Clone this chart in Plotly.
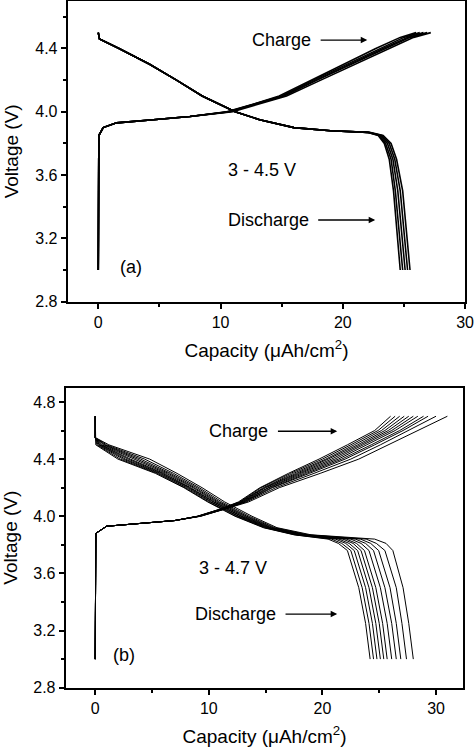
import plotly.graph_objects as go

FONT = "Liberation Sans, Arial, sans-serif"

# ---------------- Panel (a): 3 - 4.5 V ----------------
a_charge_v = [3.00, 3.85, 3.90, 3.93, 3.95, 3.97, 4.00, 4.05, 4.10, 4.20, 4.30, 4.40, 4.47, 4.50]
a_charge_cap = [
    [0, 0.05, 0.4, 1.5, 4.5, 7.5, 10.5, 12.8, 14.8, 17.4, 20.0, 22.7, 24.7, 26.0],
    [0, 0.05, 0.4, 1.5, 4.5, 7.5, 10.6, 12.9, 15.0, 17.6, 20.3, 23.0, 25.0, 26.3],
    [0, 0.05, 0.4, 1.5, 4.5, 7.5, 10.7, 13.0, 15.1, 17.8, 20.5, 23.3, 25.3, 26.6],
    [0, 0.05, 0.4, 1.5, 4.5, 7.5, 10.8, 13.1, 15.2, 17.9, 20.7, 23.6, 25.5, 26.9],
    [0, 0.05, 0.4, 1.5, 4.5, 7.5, 11.0, 13.3, 15.4, 18.2, 21.0, 23.9, 25.8, 27.2],
]
a_dis_v = [4.50, 4.46, 4.40, 4.30, 4.20, 4.10, 4.00, 3.95, 3.90, 3.88, 3.87, 3.85, 3.80, 3.70, 3.50, 3.25, 3.00]
a_dis_cap = [
    [0, 0.1, 1.7, 4.2, 6.4, 8.5, 11.2, 13.2, 16.0, 19.0, 22.0, 22.9, 23.4, 23.8, 24.15, 24.45, 24.7],
    [0, 0.1, 1.7, 4.2, 6.4, 8.5, 11.2, 13.2, 16.0, 19.0, 22.0, 23.0, 23.5, 23.95, 24.3, 24.6, 24.9],
    [0, 0.1, 1.7, 4.2, 6.4, 8.5, 11.2, 13.2, 16.0, 19.0, 22.1, 23.1, 23.65, 24.1, 24.5, 24.8, 25.1],
    [0, 0.1, 1.7, 4.2, 6.4, 8.5, 11.2, 13.2, 16.0, 19.0, 22.1, 23.2, 23.8, 24.25, 24.7, 25.0, 25.3],
    [0, 0.1, 1.7, 4.2, 6.4, 8.5, 11.2, 13.2, 16.0, 19.0, 22.2, 23.3, 23.95, 24.4, 24.9, 25.2, 25.5],
]

# ---------------- Panel (b): 3 - 4.7 V ----------------
b_charge_v = [3.00, 3.88, 3.93, 3.95, 3.97, 4.00, 4.05, 4.10, 4.20, 4.30, 4.40, 4.50, 4.60, 4.70]
b_charge_cap = [
    [0, 0.05, 1.0, 4.0, 7.0, 9.0, 11.0, 12.6, 14.5, 17.0, 19.7, 22.2, 24.6, 26.0],
    [0, 0.05, 1.0, 4.0, 7.0, 9.0, 11.0, 12.7, 14.6, 17.2, 20.0, 22.5, 24.9, 26.4],
    [0, 0.05, 1.0, 4.0, 7.0, 9.05, 11.1, 12.75, 14.8, 17.45, 20.3, 22.8, 25.2, 26.8],
    [0, 0.05, 1.0, 4.0, 7.0, 9.1, 11.1, 12.8, 14.9, 17.7, 20.5, 23.1, 25.5, 27.2],
    [0, 0.05, 1.0, 4.0, 7.0, 9.1, 11.2, 12.9, 15.0, 17.9, 20.8, 23.35, 25.8, 27.6],
    [0, 0.05, 1.0, 4.0, 7.0, 9.1, 11.2, 12.95, 15.2, 18.1, 21.1, 23.6, 26.1, 28.0],
    [0, 0.05, 1.0, 4.0, 7.0, 9.15, 11.25, 13.05, 15.3, 18.35, 21.4, 23.9, 26.4, 28.4],
    [0, 0.05, 1.0, 4.0, 7.0, 9.15, 11.3, 13.1, 15.5, 18.6, 21.7, 24.3, 26.8, 28.9],
    [0, 0.05, 1.0, 4.0, 7.0, 9.2, 11.35, 13.2, 15.6, 18.85, 22.0, 24.6, 27.1, 29.3],
    [0, 0.05, 1.0, 4.0, 7.0, 9.25, 11.4, 13.3, 15.9, 19.25, 22.5, 25.1, 27.6, 30.0],
    [0, 0.05, 1.0, 4.0, 7.0, 9.3, 11.5, 13.5, 16.2, 19.8, 23.2, 25.8, 28.4, 31.0],
]
b_dis_v = [4.70, 4.55, 4.50, 4.40, 4.30, 4.20, 4.10, 4.00, 3.92, 3.87, 3.84, 3.81, 3.76, 3.50, 3.25, 3.00]
b_dis_cap = [
    [0, 0, 0.05, 2.0, 5.3, 7.8, 9.9, 12.3, 14.8, 17.5, 20.5, 21.4, 22.2, 23.2, 23.8, 24.2],
    [0, 0, 0.15, 2.2, 5.45, 7.9, 10.0, 12.4, 14.9, 17.6, 20.8, 21.7, 22.5, 23.5, 24.1, 24.5],
    [0, 0, 0.25, 2.45, 5.6, 8.05, 10.15, 12.55, 15.0, 17.75, 21.15, 22.05, 22.8, 23.8, 24.4, 24.8],
    [0, 0, 0.35, 2.65, 5.75, 8.2, 10.25, 12.65, 15.1, 17.85, 21.45, 22.35, 23.1, 24.1, 24.7, 25.1],
    [0, 0, 0.4, 2.9, 5.9, 8.3, 10.4, 12.8, 15.2, 18.0, 21.8, 22.7, 23.4, 24.4, 25.0, 25.4],
    [0, 0, 0.5, 3.1, 6.05, 8.4, 10.5, 12.9, 15.3, 18.1, 22.1, 23.0, 23.7, 24.7, 25.3, 25.7],
    [0, 0, 0.6, 3.4, 6.25, 8.6, 10.65, 13.05, 15.4, 18.25, 22.5, 23.4, 24.1, 25.1, 25.7, 26.1],
    [0, 0, 0.75, 3.7, 6.45, 8.75, 10.8, 13.2, 15.5, 18.4, 22.9, 23.8, 24.5, 25.5, 26.1, 26.5],
    [0, 0, 0.85, 4.0, 6.65, 8.95, 10.95, 13.35, 15.65, 18.55, 23.35, 24.25, 24.95, 25.95, 26.5, 26.9],
    [0, 0, 1.0, 4.35, 6.9, 9.15, 11.15, 13.55, 15.8, 18.75, 23.85, 24.75, 25.5, 26.5, 27.0, 27.4],
    [0, 0.02, 1.2, 4.8, 7.2, 9.4, 11.4, 13.8, 16.0, 19.0, 24.6, 25.6, 26.2, 27.1, 27.6, 28.0],
]

x_ticks_a = [0, 10, 20, 30]
x_ticks_b = [0, 10, 20, 30]
y_ticks_a = [2.8, 3.2, 3.6, 4.0, 4.4]
y_ticks_b = [2.8, 3.2, 3.6, 4.0, 4.4, 4.8]

fig = go.Figure()

def add_curves(caps_list, volts, xa, ya, width):
    for caps in caps_list:
        fig.add_trace(go.Scatter(x=caps, y=volts, mode="lines",
                                 line=dict(color="black", width=width),
                                 xaxis=xa, yaxis=ya, showlegend=False,
                                 hoverinfo="skip"))

add_curves(a_charge_cap, a_charge_v, "x", "y", 1.6)
add_curves(a_dis_cap, a_dis_v, "x", "y", 1.6)
add_curves(b_charge_cap, b_charge_v, "x2", "y2", 1.0)
add_curves(b_dis_cap, b_dis_v, "x2", "y2", 1.0)

tickfont = dict(family=FONT, size=16, color="black")
titlefont = dict(family=FONT, size=19, color="black")
xtitle = "Capacity (\u03bcAh/cm<sup>2</sup>)"

def xaxis_cfg(domain, anchor, rng, ticks):
    return dict(domain=domain, anchor=anchor, range=rng, tickvals=ticks,
                ticks="outside", ticklen=5, tickwidth=1.5, tickcolor="black",
                ticklabeloverflow="allow",
                minor=dict(ticks="outside", ticklen=3, tickwidth=1.5, tickcolor="black", dtick=5, tick0=0),
                showline=True, linewidth=2, linecolor="black", mirror=True,
                showgrid=False, zeroline=False, tickfont=tickfont,
                title=dict(text=xtitle, font=titlefont, standoff=14),
                automargin=False, fixedrange=True)

def yaxis_cfg(domain, anchor, rng, ticks):
    return dict(domain=domain, anchor=anchor, range=rng, tickvals=ticks,
                tickformat=".1f",
                ticks="outside", ticklen=5, tickwidth=1.5, tickcolor="black",
                minor=dict(ticks="outside", ticklen=3, tickwidth=1.5, tickcolor="black", dtick=0.2, tick0=2.8),
                showline=True, linewidth=2, linecolor="black", mirror=True,
                showgrid=False, zeroline=False, tickfont=tickfont,
                title=dict(text="Voltage (V)", font=titlefont, standoff=12),
                automargin=False, fixedrange=True)

fig.update_layout(
    width=474, height=751,
    margin=dict(l=0, r=0, t=0, b=0),
    paper_bgcolor="white", plot_bgcolor="white",
    font=dict(family=FONT, color="black"),
    xaxis=xaxis_cfg([0.1428, 0.9816], "y", [-2.5, 30.02], x_ticks_a),
    yaxis=yaxis_cfg([0.5983, 0.9987], "x", [2.8, 4.7], y_ticks_a),
    xaxis2=xaxis_cfg([0.1386, 0.9774], "y2", [-2.6, 32.4], x_ticks_b),
    yaxis2=yaxis_cfg([0.0843, 0.4838], "x2", [2.8, 4.9], y_ticks_b),
)

labfont = dict(family=FONT, size=18, color="black")

def arrow_label(text, tx, ty, hx, xr, yr):
    # text centred at (tx, ty); arrow from the text box to the head at (hx, ty)
    return dict(x=hx, y=ty, ax=tx, ay=ty, xref=xr, yref=yr, axref=xr, ayref=yr,
                text=text, font=labfont, showarrow=True, arrowhead=2, arrowsize=1,
                arrowwidth=1.3, arrowcolor="black", borderpad=9)

annots = [
    # panel a
    arrow_label("Charge", 15.0, 4.453, 22.0, "x", "y"),
    dict(x=13.4, y=3.63, xref="x", yref="y", text="3 - 4.5 V", showarrow=False, font=labfont),
    arrow_label("Discharge", 13.9, 3.316, 22.65, "x", "y"),
    dict(x=2.7, y=3.02, xref="x", yref="y", text="(a)", showarrow=False, font=labfont),
    # panel b
    arrow_label("Charge", 12.65, 4.595, 21.3, "x2", "y2"),
    dict(x=12.1, y=3.64, xref="x2", yref="y2", text="3 - 4.7 V", showarrow=False, font=labfont),
    arrow_label("Discharge", 12.35, 3.315, 21.3, "x2", "y2"),
    dict(x=2.55, y=3.03, xref="x2", yref="y2", text="(b)", showarrow=False, font=labfont),
]
fig.update_layout(annotations=annots)

fig.write_html("out.html", config={"displayModeBar": False})
